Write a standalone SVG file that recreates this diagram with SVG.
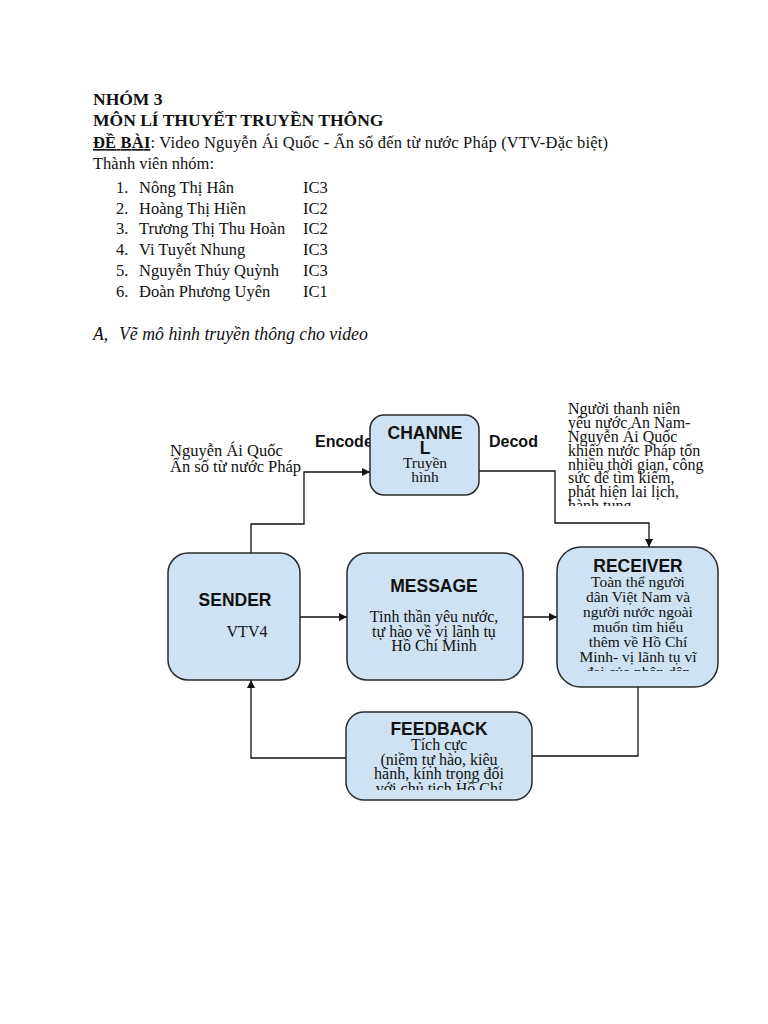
<svg xmlns="http://www.w3.org/2000/svg" width="768" height="1024" viewBox="0 0 768 1024">
<style>
.t{font-family:"Liberation Serif","DejaVu Serif",serif;font-size:16.5px;fill:#111}
.b{font-weight:bold}
.h{font-family:"Liberation Serif","DejaVu Serif",serif;font-size:17.5px;font-weight:bold;fill:#111}
.it{font-family:"Liberation Serif","DejaVu Serif",serif;font-size:17.8px;font-style:italic;fill:#111}
.s{font-family:"Liberation Serif","DejaVu Serif",serif;font-size:15.5px;fill:#111}
.m{font-family:"Liberation Serif","DejaVu Serif",serif;font-size:16px;fill:#111}
.ttl{font-family:"Liberation Sans",Arial,sans-serif;font-size:17.5px;font-weight:bold;fill:#111}
.lbl{font-family:"Liberation Sans",Arial,sans-serif;font-size:16px;font-weight:bold;fill:#111}
.box{fill:#cfe2f3;stroke:#2a2a2a;stroke-width:1.5}
.ln{fill:none;stroke:#111;stroke-width:1.3}
</style>
<defs>
<marker id="ah" viewBox="0 0 10 10" refX="10" refY="5" markerWidth="9" markerHeight="8" markerUnits="userSpaceOnUse" orient="auto">
<path d="M0,0 L10,5 L0,10 z" fill="#111"/>
</marker>
<clipPath id="cTR"><rect x="560" y="395" width="180" height="111"/></clipPath>
<clipPath id="cRC"><rect x="557" y="547" width="161" height="124"/></clipPath>
<clipPath id="cFB"><rect x="346" y="712" width="186" height="78"/></clipPath>
</defs>
<rect width="768" height="1024" fill="#fff"/>

<g id="header">
<text class="h" x="93" y="105">NHÓM 3</text>
<text class="h" x="93" y="126">MÔN LÍ THUYẾT TRUYỀN THÔNG</text>
<text class="t" x="93" y="148" textLength="515"><tspan class="b" text-decoration="underline">ĐỀ BÀI</tspan>: Video Nguyễn Ái Quốc - Ẩn số đến từ nước Pháp (VTV-Đặc biệt)</text>
<text class="t" x="93" y="169">Thành viên nhóm:</text>
<text class="t" x="116" y="193">1.</text><text class="t" x="139" y="193">Nông Thị Hân</text><text class="t" x="303" y="193">IC3</text>
<text class="t" x="116" y="214">2.</text><text class="t" x="139" y="214">Hoàng Thị Hiền</text><text class="t" x="303" y="214">IC2</text>
<text class="t" x="116" y="234">3.</text><text class="t" x="139" y="234">Trương Thị Thu Hoàn</text><text class="t" x="303" y="234">IC2</text>
<text class="t" x="116" y="255">4.</text><text class="t" x="139" y="255">Vi Tuyết Nhung</text><text class="t" x="303" y="255">IC3</text>
<text class="t" x="116" y="276">5.</text><text class="t" x="139" y="276">Nguyễn Thúy Quỳnh</text><text class="t" x="303" y="276">IC3</text>
<text class="t" x="116" y="297">6.</text><text class="t" x="139" y="297">Đoàn Phương Uyên</text><text class="t" x="303" y="297">IC1</text>
<text class="it" x="93" y="340">A,<tspan x="119">Vẽ mô hình truyền thông cho video</tspan></text>
</g>

<g id="connectors">
<path class="ln" d="M251,553 V524 H304 V472 H370" marker-end="url(#ah)"/>
<path class="ln" d="M479,471 H555 V523 H649 V547" marker-end="url(#ah)"/>
<path class="ln" d="M300,617 H347" marker-end="url(#ah)"/>
<path class="ln" d="M523,617 H557" marker-end="url(#ah)"/>
<path class="ln" d="M638,687 V756 H532"/>
<path class="ln" d="M346,758 H251 V680" marker-end="url(#ah)"/>
</g>

<g id="source-label">
<text class="t" x="170" y="456">Nguyễn Ái Quốc</text>
<text class="t" x="170" y="472">Ẩn số từ nước Pháp</text>
</g>
<g id="encode"><text class="lbl" x="315" y="447">Encode</text></g>
<g id="decode"><text class="lbl" x="489" y="447">Decod</text></g>

<g id="channel">
<rect class="box" x="370" y="415" width="109" height="80" rx="14"/>
<text class="ttl" x="425" y="439" text-anchor="middle">CHANNE</text>
<text class="ttl" x="425" y="454" text-anchor="middle">L</text>
<text class="s" x="425" y="468" text-anchor="middle">Truyền</text>
<text class="s" x="425" y="482" text-anchor="middle">hình</text>
</g>

<g id="decode-note" clip-path="url(#cTR)">
<text class="m" x="568" y="414">Người thanh niên</text>
<text class="m" x="568" y="428">yêu nước An Nam-</text>
<text class="m" x="568" y="442">Nguyễn Ái Quốc</text>
<text class="m" x="568" y="456">khiến nước Pháp tốn</text>
<text class="m" x="568" y="470">nhiều thời gian, công</text>
<text class="m" x="568" y="483">sức để tìm kiếm,</text>
<text class="m" x="568" y="497">phát hiện lai lịch,</text>
<text class="m" x="568" y="511">hành tung</text>
</g>

<g id="sender">
<rect class="box" x="168" y="553" width="132" height="127" rx="20"/>
<text class="ttl" x="235" y="606" text-anchor="middle">SENDER</text>
<text class="m" x="247" y="637" text-anchor="middle">VTV4</text>
</g>

<g id="message">
<rect class="box" x="347" y="553" width="176" height="127" rx="20"/>
<text class="ttl" x="434" y="592" text-anchor="middle">MESSAGE</text>
<text class="m" x="434" y="622" text-anchor="middle">Tinh thần yêu nước,</text>
<text class="m" x="434" y="637" text-anchor="middle">tự hào về vị lãnh tụ</text>
<text class="m" x="434" y="651" text-anchor="middle">Hồ Chí Minh</text>
</g>

<g id="receiver">
<rect class="box" x="557" y="547" width="161" height="140" rx="24"/>
<text class="ttl" x="638" y="572" text-anchor="middle">RECEIVER</text>
<g clip-path="url(#cRC)">
<text class="s" x="638" y="587" text-anchor="middle">Toàn thể người</text>
<text class="s" x="638" y="602" text-anchor="middle">dân Việt Nam và</text>
<text class="s" x="638" y="617" text-anchor="middle">người nước ngoài</text>
<text class="s" x="638" y="632" text-anchor="middle">muốn tìm hiểu</text>
<text class="s" x="638" y="647" text-anchor="middle">thêm về Hồ Chí</text>
<text class="s" x="638" y="662" text-anchor="middle">Minh- vị lãnh tụ vĩ</text>
<text class="s" x="638" y="677" text-anchor="middle">đại của nhân dân</text>
</g>
</g>

<g id="feedback">
<rect class="box" x="346" y="712" width="186" height="88" rx="18"/>
<text class="ttl" x="439" y="735" text-anchor="middle">FEEDBACK</text>
<g clip-path="url(#cFB)">
<text class="m" x="439" y="750" text-anchor="middle">Tích cực</text>
<text class="m" x="439" y="765" text-anchor="middle">(niềm tự hào, kiêu</text>
<text class="m" x="439" y="779" text-anchor="middle">hãnh, kính trọng đối</text>
<text class="m" x="439" y="794" text-anchor="middle">với chủ tịch Hồ Chí</text>
</g>
</g>
</svg>
